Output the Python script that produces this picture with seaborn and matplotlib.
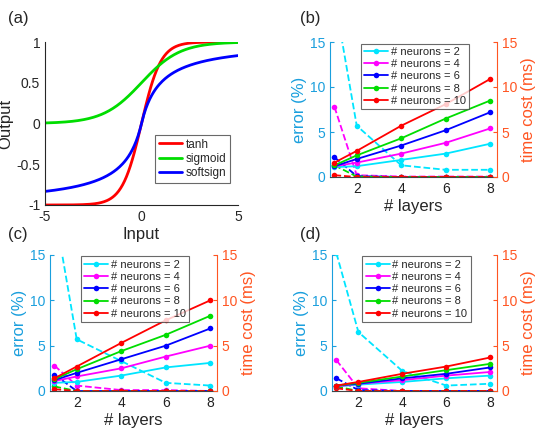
import numpy as np
import matplotlib
matplotlib.use("Agg")
import matplotlib.pyplot as plt
import seaborn as sns

sns.set_style("white")
plt.rcParams['font.family'] = ['Liberation Sans', 'DejaVu Sans']

layers = [1, 2, 4, 6, 8]
neurons = [2, 4, 6, 8, 10]
colors = ['#00e5ff', '#ff00ff', '#0000ff', '#00dd00', '#ff0000']

# time cost (ms), one list per neuron count
time_b = [[1.1, 1.2, 1.9, 2.6, 3.7], [1.2, 1.6, 2.6, 3.8, 5.4], [1.2, 2.0, 3.5, 5.2, 7.2],
          [1.3, 2.4, 4.3, 6.5, 8.5], [1.6, 2.9, 5.7, 8.1, 10.9]]
err_b = [[20, 5.7, 1.3, 0.8, 0.8], [7.8, 0.2, 0.05, 0.05, 0.05], [2.2, 0.1, 0, 0, 0],
         [1.3, 0.05, 0, 0, 0], [0.2, 0, 0, 0, 0]]
time_c = [[0.9, 1.0, 1.7, 2.6, 3.1], [1.1, 1.6, 2.5, 3.8, 5.0], [1.2, 2.0, 3.5, 5.0, 6.9],
          [1.3, 2.4, 4.4, 6.2, 8.3], [1.4, 2.7, 5.3, 7.8, 10.0]]
err_c = [[20, 5.7, 3.3, 0.9, 0.6], [2.8, 0.6, 0.1, 0.1, 0.0], [1.8, 0, 0, 0, 0],
         [0.5, 0, 0, 0, 0], [0.2, 0, 0, 0, 0]]
time_d = [[0.5, 0.7, 1.0, 1.4, 1.7], [0.5, 0.8, 1.2, 1.7, 2.1], [0.6, 0.8, 1.4, 1.9, 2.6],
          [0.6, 0.9, 1.6, 2.3, 3.0], [0.6, 1.0, 1.9, 2.7, 3.7]]
err_d = [[15.2, 6.5, 2.2, 0.6, 0.8], [3.4, 0.3, 0, 0, 0], [1.4, 0.1, 0, 0, 0],
         [0.5, 0, 0, 0, 0], [0.3, 0, 0, 0, 0]]

W, H = 550, 441
fig = plt.figure(figsize=(5.5, 4.41), dpi=100)

def box(x0, x1, y0, y1):
    return [x0 / W, 1 - y1 / H, (x1 - x0) / W, (y1 - y0) / H]

# panel (a): activation functions
ax = fig.add_axes(box(45, 238, 42, 205))
xs = np.linspace(-5, 5, 200)
ax.plot(xs, np.tanh(xs), color='#ff0000', lw=2, label='tanh')
ax.plot(xs, 1 / (1 + np.exp(-xs)), color='#00dd00', lw=2, label='sigmoid')
ax.plot(xs, xs / (1 + np.abs(xs)), color='#0000ff', lw=2, label='softsign')
ax.set_xlim(-5, 5)
ax.set_ylim(-1, 1)
ax.set_xticks([-5, 0, 5])
ax.set_yticks([-1, -0.5, 0, 0.5, 1])
ax.set_yticklabels(['-1', '-0.5', '0', '0.5', '1'])
ax.set_xticklabels(['-5', '0', '5'])
ax.tick_params(labelsize=10, direction='in', length=3)
ax.set_xlabel('Input', fontsize=12, labelpad=2)
ax.set_ylabel('Output', fontsize=12, labelpad=2)
leg = ax.legend(loc='lower right', fontsize=8.5, fancybox=False, edgecolor='#444444',
                bbox_to_anchor=(0.99, 0.1), handlelength=2.0, labelspacing=0.2,
                borderpad=0.3, handletextpad=0.3)
leg.get_frame().set_linewidth(0.8)
for s in ['top', 'right']:
    ax.spines[s].set_visible(False)
fig.text(8 / W, 1 - 18 / H, '(a)', fontsize=12, va='center')

left_c = '#1a9fdd'
right_c = '#ff5522'

def panel(rect, tm, er, tag, tagpos):
    ax = fig.add_axes(box(*rect))
    ax2 = ax.twinx()
    for i in range(5):
        sns.lineplot(x=layers, y=er[i], ax=ax, color=colors[i], lw=1.3, linestyle='--',
                     marker='o', markersize=4, markeredgewidth=0)
        sns.lineplot(x=layers, y=tm[i], ax=ax2, color=colors[i], lw=1.3, marker='o',
                     markersize=4, markeredgewidth=0, label='# neurons = %d' % neurons[i])
    for a, c in [(ax, left_c), (ax2, right_c)]:
        a.set_xlim(0.8, 8.3)
        a.set_ylim(0, 15)
        a.set_yticks([0, 5, 10, 15])
        a.tick_params(labelsize=10, direction='in', length=3, colors=c)
        a.tick_params(axis='x', colors='#222222')
        for s in a.spines.values():
            s.set_visible(False)
    ax.spines['left'].set_visible(True)
    ax.spines['left'].set_color(left_c)
    ax.spines['bottom'].set_visible(True)
    ax.spines['bottom'].set_color('#444444')
    ax2.spines['right'].set_visible(True)
    ax2.spines['right'].set_color(right_c)
    ax.set_xticks([2, 4, 6, 8])
    ax.set_ylabel('error (%)', color=left_c, fontsize=12, labelpad=2)
    ax2.set_ylabel('time cost (ms)', color=right_c, fontsize=12, labelpad=3)
    ax.set_xlabel('# layers', fontsize=12, labelpad=2)
    leg = ax2.legend(loc='upper left', fontsize=8, fancybox=False, edgecolor='#444444',
                     bbox_to_anchor=(0.15, 1.03), handlelength=2.2, labelspacing=0.2,
                     borderpad=0.3, handletextpad=0.2)
    leg.get_frame().set_linewidth(0.8)
    fig.text(tagpos[0] / W, 1 - tagpos[1] / H, tag, fontsize=12, va='center')

panel((330, 497, 42, 177), time_b, err_b, '(b)', (300, 18))
panel((50, 217, 255, 391), time_c, err_c, '(c)', (8, 235))
panel((332, 497, 255, 391), time_d, err_d, '(d)', (300, 235))

fig.savefig('out.png', dpi=100)
